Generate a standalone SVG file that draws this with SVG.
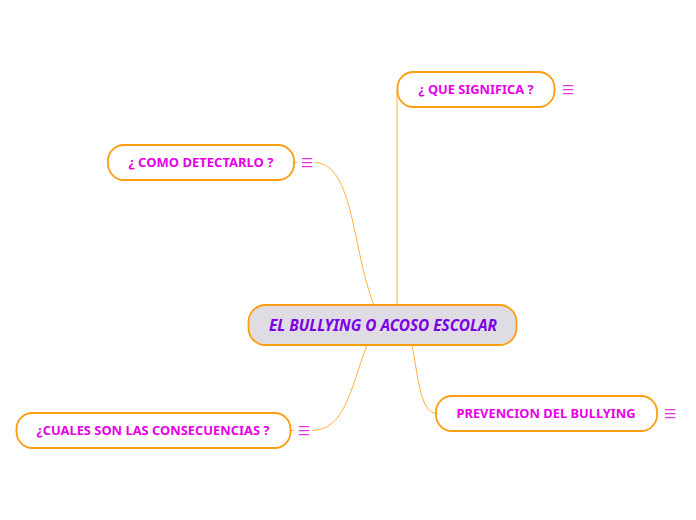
<svg xmlns="http://www.w3.org/2000/svg" width="696" height="520" viewBox="0 0 696 520">
<style>
.n{fill:#fff;stroke:#ff9c0f;stroke-width:1.800}
.t{font-family:"Noto Sans","Open Sans",sans-serif;font-size:13px;font-weight:700;fill:#e600e6;text-anchor:middle}
.c{fill:none;stroke:#ffb03a;stroke-width:1}
.m{stroke:#e600e6;stroke-width:1;fill:none}
</style>
<rect width="696" height="520" fill="#fff"/>
<g id="connectors">
<path class="c" d="M397 305V90"/>
<path class="c" d="M374 305C352 250 354 165 315.500 162.500"/>
<path class="c" d="M294 162.500H297"/>
<path class="c" d="M367 345C350 390 345 430 312 430.500"/>
<path class="c" d="M291 430.500H294"/>
<path class="c" d="M412 345C418 375 420 412 436 413.500"/>
</g>
<g id="root">
<rect class="n" x="248.500" y="305" width="268" height="40" rx="17" style="fill:#e0dce4"/>
<text x="383" y="331" style="font-family:'Noto Sans','Open Sans',sans-serif;font-size:16px;font-weight:700;font-style:italic;fill:#7a00e6;text-anchor:middle" textLength="228" lengthAdjust="spacingAndGlyphs">EL BULLYING O ACOSO ESCOLAR</text>
</g>
<g id="node-significa">
<rect class="n" x="397.500" y="72" width="157" height="35" rx="16"/>
<text class="t" x="476" y="94" textLength="115" lengthAdjust="spacingAndGlyphs">¿ QUE SIGNIFICA ?</text>
<path class="m" d="M563 85.700h10.300M563 89.700h10.300M563 93.700h10.300"/>
</g>
<g id="node-detectarlo">
<rect class="n" x="108" y="145" width="186" height="35" rx="16"/>
<text class="t" x="201" y="167" textLength="145" lengthAdjust="spacingAndGlyphs">¿ COMO DETECTARLO ?</text>
<path class="m" d="M302 158.700h10.300M302 162.700h10.300M302 166.700h10.300"/>
</g>
<g id="node-consecuencias">
<rect class="n" x="16.500" y="413" width="274" height="35" rx="16"/>
<text class="t" x="153" y="435" textLength="233" lengthAdjust="spacingAndGlyphs">¿CUALES SON LAS CONSECUENCIAS ?</text>
<path class="m" d="M299 426.700h10.300M299 430.700h10.300M299 434.700h10.300"/>
</g>
<g id="node-prevencion">
<rect class="n" x="436" y="396" width="221" height="35" rx="16"/>
<text class="t" x="546" y="418" textLength="179" lengthAdjust="spacingAndGlyphs">PREVENCION DEL BULLYING</text>
<path class="m" d="M665 409.700h10.300M665 413.700h10.300M665 417.700h10.300"/>
</g>
</svg>
